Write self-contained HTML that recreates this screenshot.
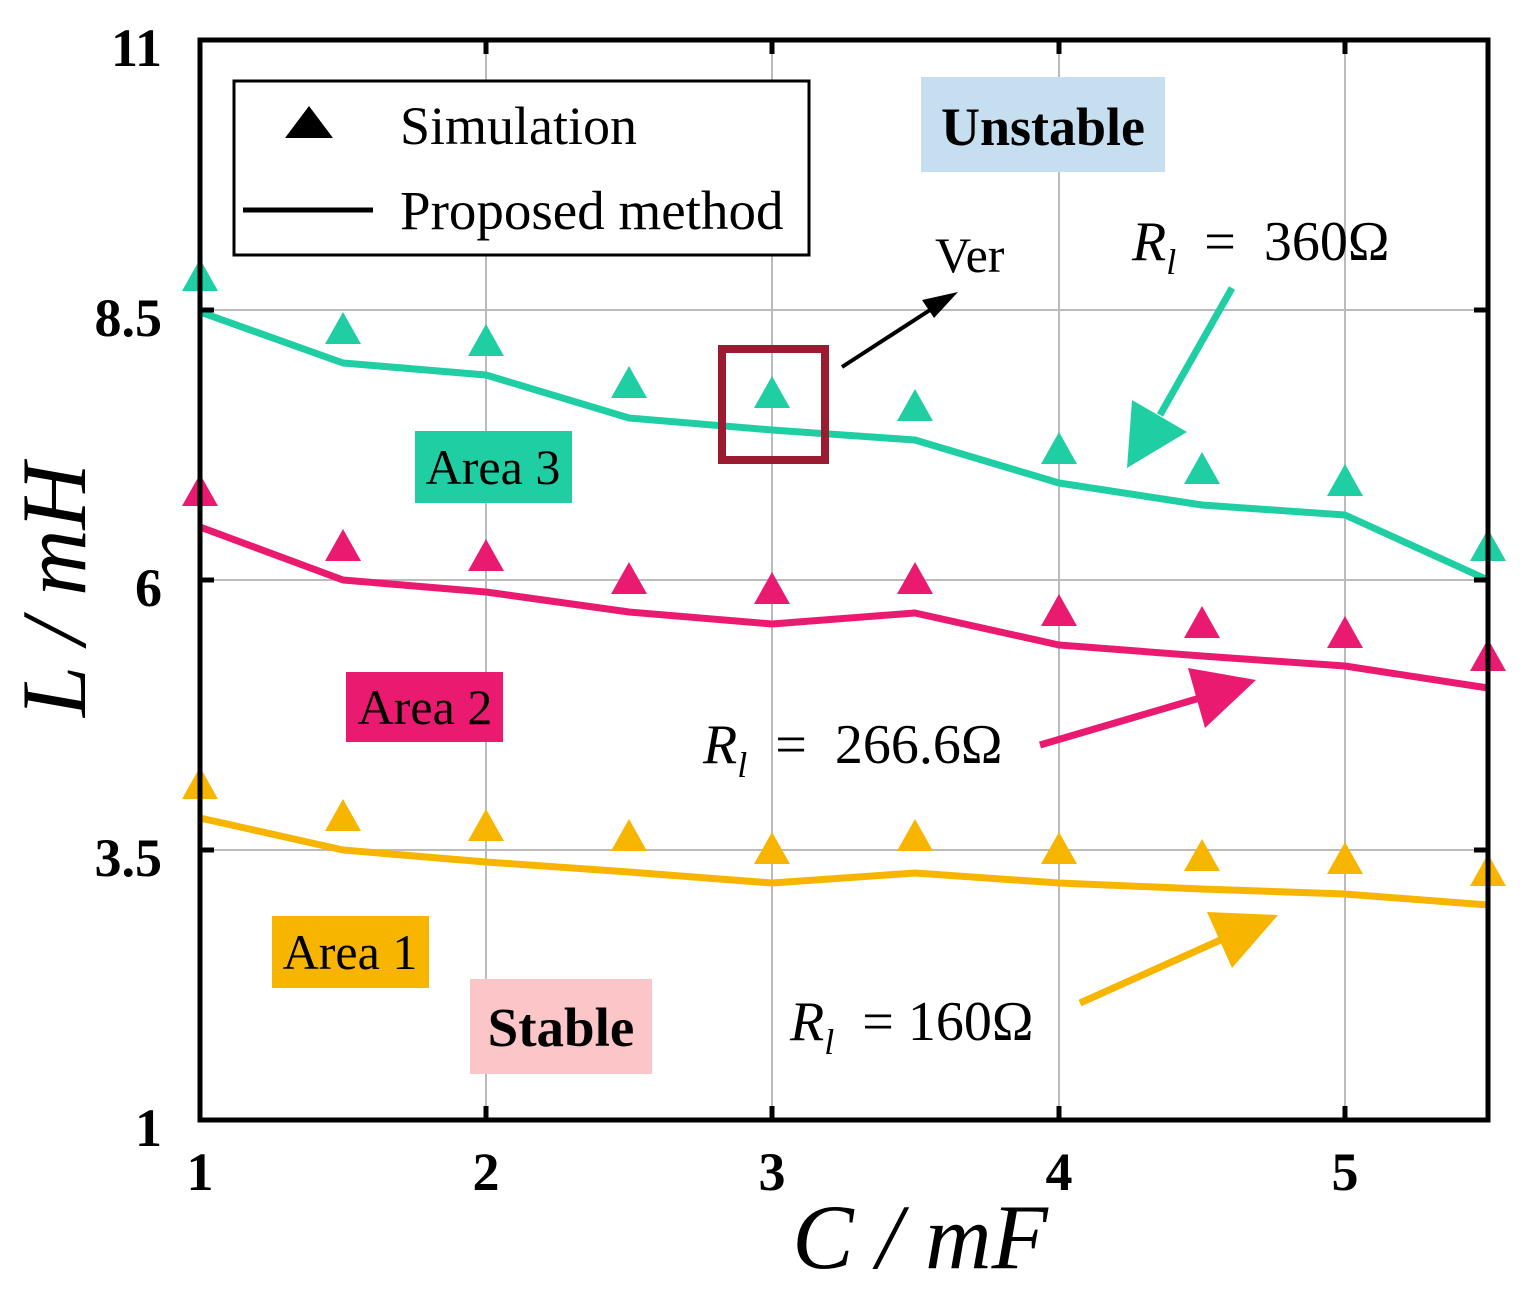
<!DOCTYPE html>
<html><head><meta charset="utf-8"><style>body{margin:0;background:#fff}</style></head><body>
<svg width="1537" height="1297" viewBox="0 0 1537 1297" xmlns="http://www.w3.org/2000/svg" font-family="'Liberation Serif',serif">
<defs>
<symbol id="t" viewBox="-18 -16 36 32" overflow="visible"><polygon points="0,-16 18,16 -18,16"/></symbol>
</defs>
<rect width="1537" height="1297" fill="#fff"/>
<g stroke="#bbb" stroke-width="2">
<line x1="486" y1="40" x2="486" y2="1120"/><line x1="772" y1="40" x2="772" y2="1120"/><line x1="1059" y1="40" x2="1059" y2="1120"/><line x1="1345" y1="40" x2="1345" y2="1120"/>
<line x1="200" y1="310" x2="1488" y2="310"/><line x1="200" y1="580" x2="1488" y2="580"/><line x1="200" y1="850" x2="1488" y2="850"/>
</g>
<rect x="921" y="77" width="244" height="95" fill="#c5dff0"/>
<text x="1043" y="145" font-size="54" font-weight="bold" text-anchor="middle">Unstable</text>
<rect x="470" y="979" width="182" height="95" fill="#fcc5c8"/>
<text x="561" y="1046" font-size="55" font-weight="bold" text-anchor="middle">Stable</text>
<rect x="415" y="431" width="157" height="72" fill="#1fcfa3"/><text x="493" y="484" font-size="50" text-anchor="middle">Area 3</text>
<rect x="346" y="672" width="157" height="70" fill="#ea1a70"/><text x="425" y="724" font-size="50" text-anchor="middle">Area 2</text>
<rect x="272" y="916" width="157" height="72" fill="#f8b500"/><text x="350" y="969" font-size="50" text-anchor="middle">Area 1</text>
<g fill="none" stroke-width="7" stroke-linejoin="round">
<polyline stroke="#1fcfa3" points="200,312 343,363 486,375 629,418 772,430 915,440 1059,483 1202,505 1345,515 1488,580"/>
<polyline stroke="#ea1a70" points="200,527 343,580 486,592 629,612 772,624 915,613 1059,645 1202,656 1345,666 1488,688"/>
<polyline stroke="#f8b500" points="200,818 343,850 486,862 629,872 772,883 915,873 1059,883 1202,889 1345,894 1488,905"/>
</g>
<g fill="#1fcfa3">
<use href="#t" x="182" y="259" width="36" height="32"/><use href="#t" x="325" y="312" width="36" height="32"/><use href="#t" x="468" y="324" width="36" height="32"/><use href="#t" x="611" y="366" width="36" height="32"/><use href="#t" x="754" y="376" width="36" height="32"/><use href="#t" x="897" y="389" width="36" height="32"/><use href="#t" x="1041" y="432" width="36" height="32"/><use href="#t" x="1184" y="452" width="36" height="32"/><use href="#t" x="1327" y="464" width="36" height="32"/><use href="#t" x="1470" y="529" width="36" height="32"/>
</g>
<g fill="#ea1a70">
<use href="#t" x="182" y="474" width="36" height="32"/><use href="#t" x="325" y="529" width="36" height="32"/><use href="#t" x="468" y="539" width="36" height="32"/><use href="#t" x="611" y="562" width="36" height="32"/><use href="#t" x="754" y="572" width="36" height="32"/><use href="#t" x="897" y="562" width="36" height="32"/><use href="#t" x="1041" y="594" width="36" height="32"/><use href="#t" x="1184" y="606" width="36" height="32"/><use href="#t" x="1327" y="616" width="36" height="32"/><use href="#t" x="1470" y="639" width="36" height="32"/>
</g>
<g fill="#f8b500">
<use href="#t" x="182" y="767" width="36" height="32"/><use href="#t" x="325" y="799" width="36" height="32"/><use href="#t" x="468" y="809" width="36" height="32"/><use href="#t" x="611" y="819" width="36" height="32"/><use href="#t" x="754" y="832" width="36" height="32"/><use href="#t" x="897" y="819" width="36" height="32"/><use href="#t" x="1041" y="832" width="36" height="32"/><use href="#t" x="1184" y="839" width="36" height="32"/><use href="#t" x="1327" y="842" width="36" height="32"/><use href="#t" x="1470" y="854" width="36" height="32"/>
</g>
<rect x="722" y="349" width="103" height="111" fill="none" stroke="#9b1b30" stroke-width="8"/>
<line x1="842" y1="367" x2="930" y2="310" stroke="#000" stroke-width="4"/>
<polygon points="958,292 922,300 934,318" fill="#000"/>
<text x="935" y="272" font-size="50">Ver</text>
<line x1="1232" y1="288" x2="1160" y2="415" stroke="#1fcfa3" stroke-width="7"/>
<polygon points="1127,468 1132,400 1187,432" fill="#1fcfa3"/>
<line x1="1040" y1="745" x2="1200" y2="698" stroke="#ea1a70" stroke-width="7"/>
<polygon points="1256,680 1188,668 1205,728" fill="#ea1a70"/>
<line x1="1080" y1="1003" x2="1225" y2="938" stroke="#f8b500" stroke-width="7"/>
<polygon points="1278,915 1207,912 1232,968" fill="#f8b500"/>
<text x="1132" y="260" font-size="56"><tspan font-style="italic">R</tspan><tspan font-style="italic" font-size="36" dy="14">l</tspan><tspan dy="-14" xml:space="preserve">  =  360Ω</tspan></text>
<text x="703" y="763" font-size="56"><tspan font-style="italic">R</tspan><tspan font-style="italic" font-size="36" dy="14">l</tspan><tspan dy="-14" xml:space="preserve">  =  266.6Ω</tspan></text>
<text x="790" y="1040" font-size="56"><tspan font-style="italic">R</tspan><tspan font-style="italic" font-size="36" dy="14">l</tspan><tspan dy="-14" xml:space="preserve">  = 160Ω</tspan></text>
<rect x="234" y="81" width="575" height="174" fill="#fff" stroke="#000" stroke-width="3"/>
<polygon points="309,106 333,138 285,138" fill="#000"/>
<text x="400" y="144" font-size="54">Simulation</text>
<line x1="243" y1="210" x2="373" y2="210" stroke="#000" stroke-width="5"/>
<text x="400" y="229" font-size="55">Proposed method</text>
<rect x="200" y="40" width="1288" height="1080" fill="none" stroke="#000" stroke-width="5"/>
<g stroke="#000" stroke-width="5">
<line x1="486" y1="1120" x2="486" y2="1106"/><line x1="772" y1="1120" x2="772" y2="1106"/><line x1="1059" y1="1120" x2="1059" y2="1106"/><line x1="1345" y1="1120" x2="1345" y2="1106"/>
<line x1="486" y1="40" x2="486" y2="54"/><line x1="772" y1="40" x2="772" y2="54"/><line x1="1059" y1="40" x2="1059" y2="54"/><line x1="1345" y1="40" x2="1345" y2="54"/>
<line x1="200" y1="310" x2="214" y2="310"/><line x1="200" y1="580" x2="214" y2="580"/><line x1="200" y1="850" x2="214" y2="850"/>
<line x1="1488" y1="310" x2="1474" y2="310"/><line x1="1488" y1="580" x2="1474" y2="580"/><line x1="1488" y1="850" x2="1474" y2="850"/>
</g>
<g font-size="54" font-weight="bold" text-anchor="end">
<text x="162" y="66">11</text><text x="162" y="336">8.5</text><text x="162" y="606">6</text><text x="162" y="876">3.5</text><text x="162" y="1146">1</text>
</g>
<g font-size="54" font-weight="bold" text-anchor="middle">
<text x="200" y="1190">1</text><text x="486" y="1190">2</text><text x="772" y="1190">3</text><text x="1059" y="1190">4</text><text x="1345" y="1190">5</text>
</g>
<text x="920" y="1268" font-size="92" font-style="italic" text-anchor="middle">C / mF</text>
<text transform="translate(85,590) rotate(-90)" font-size="92" font-style="italic" text-anchor="middle">L / mH</text>
</svg>
</body></html>
